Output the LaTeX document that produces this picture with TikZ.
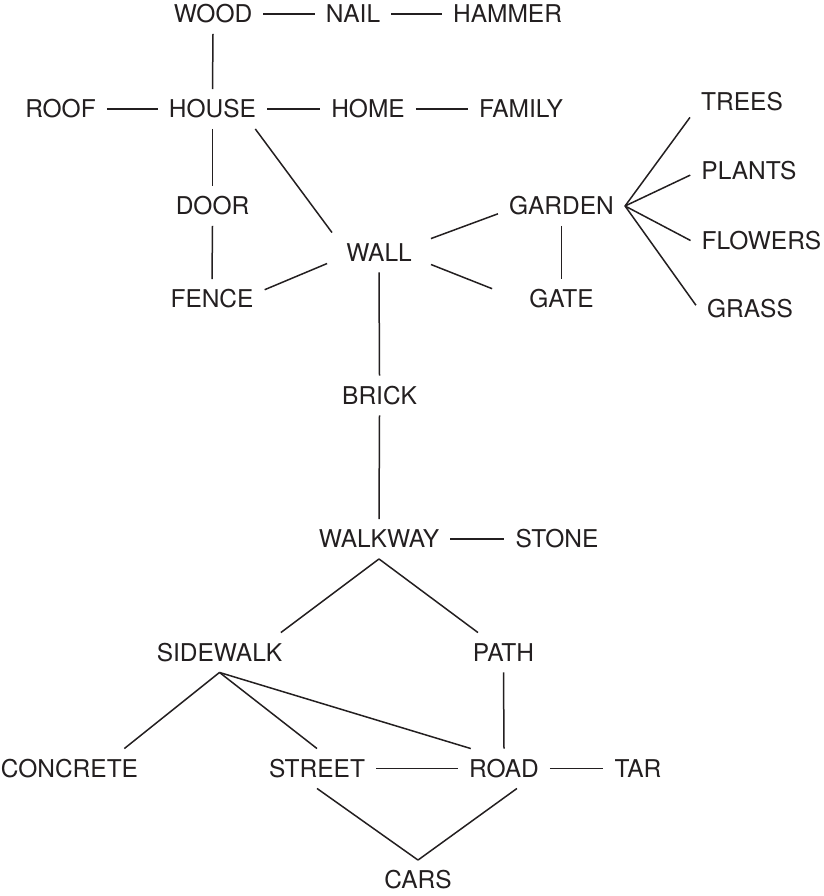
\documentclass[tikz,border=0pt]{standalone}
\usepackage{fontspec}
\setmainfont{TeX Gyre Heros}
\definecolor{ink}{HTML}{231F20}
\tikzset{
  word/.style={font=\fontsize{24.5}{29}\selectfont,text=ink,text height=17.5pt,text depth=0pt,inner xsep=11pt,inner ysep=11pt},
  link/.style={draw=ink,line width=1.5pt}
}
\begin{document}
\begin{tikzpicture}[x=1pt,y=-1pt]
    \useasboundingbox (0,0) rectangle (823,896);
    \node[word] (wood) at (213,14) {WOOD};
    \node[word] (nail) at (353,14) {NAIL};
    \node[word] (hammer) at (507.5,14) {HAMMER};
    \node[word] (roof) at (60.5,109) {ROOF};
    \node[word] (house) at (212.5,109) {HOUSE};
    \node[word] (home) at (368,109) {HOME};
    \node[word] (family) at (521,109) {FAMILY};
    \node[word] (door) at (212.5,206) {DOOR};
    \node[word] (fence) at (212,299) {FENCE};
    \node[word,inner xsep=19pt] (wall) at (379,252.5) {WALL};
    \node[word] (garden) at (561.5,206) {GARDEN};
    \node[word] (gate) at (561.5,299) {GATE};
    \node[word] (trees) at (742,101.5) {TREES};
    \node[word] (plants) at (749,171) {PLANTS};
    \node[word] (flowers) at (761.5,240.5) {FLOWERS};
    \node[word] (grass) at (750,309) {GRASS};
    \node[word] (brick) at (379.5,395.5) {BRICK};
    \node[word] (walkway) at (379,539) {WALKWAY};
    \node[word] (stone) at (557,539) {STONE};
    \node[word] (sidewalk) at (219.5,652.5) {SIDEWALK};
    \node[word] (pth) at (503.5,652.5) {PATH};
    \node[word] (concrete) at (69.5,768.5) {CONCRETE};
    \node[word] (street) at (317,768.5) {STREET};
    \node[word] (road) at (504,768.5) {ROAD};
    \node[word] (tar) at (638,768.5) {TAR};
    \node[word] (cars) at (418,880) {CARS};
    \draw[link] (wood.east) -- (nail.west);
    \draw[link] (nail.east) -- (hammer.west);
    \draw[link] (wood.south) -- (house.north);
    \draw[link] (roof.east) -- (house.west);
    \draw[link] (house.east) -- (home.west);
    \draw[link] (home.east) -- (family.west);
    \draw[link] (house.south) -- (door.north);
    \draw[link] (door.south) -- (fence.north);
    \draw[link] (house.-25) -- (wall.157);
    \draw[link] (wall.192) -- (fence.10);
    \draw[link] (wall.15) -- (garden.187);
    \draw[link,shorten >=28pt] (wall.-13) -- (gate.west);
    \draw[link] (garden.south) -- (gate.north);
    \draw[link] (garden.east) -- (trees.197);
    \draw[link] (garden.east) -- (plants.184);
    \draw[link] (garden.east) -- (flowers.west);
    \draw[link] (garden.east) -- (grass.176);
    \draw[link] (wall.south) -- (brick.north);
    \draw[link] (brick.south) -- (walkway.north);
    \draw[link] (walkway.east) -- (stone.west);
    \draw[link] (walkway.south) -- (sidewalk.18);
    \draw[link] (walkway.south) -- (pth.142);
    \draw[link] (sidewalk.south) -- (concrete.20);
    \draw[link] (sidewalk.south) -- (street.north);
    \draw[link] (sidewalk.south) -- (road.149);
    \draw[link] (pth.south) -- (road.north);
    \draw[link] (street.east) -- (road.west);
    \draw[link] (road.east) -- (tar.west);
    \draw[link] (street.south) -- (cars.north);
    \draw[link] (road.-57) -- (cars.north);
\end{tikzpicture}
\end{document}
